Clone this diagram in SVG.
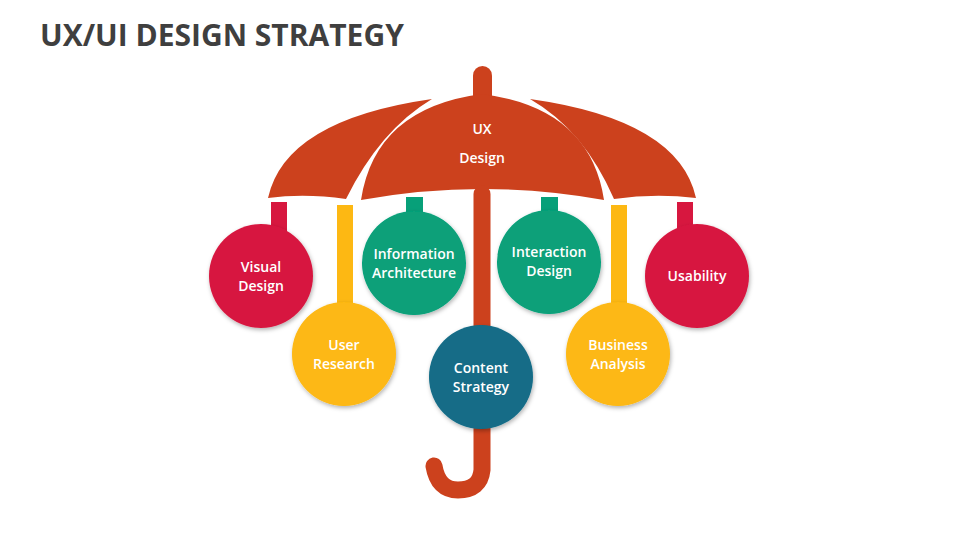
<svg xmlns="http://www.w3.org/2000/svg" width="960" height="540" viewBox="0 0 960 540">
<style>
.r{fill:#cc411d}.c{fill:#d7173f}.y{fill:#fdb813}.g{fill:#07a079}.t{fill:#136c87}
.lb{font-family:"Open Sans","Liberation Sans",sans-serif;font-weight:600;font-size:14px;fill:#fff;text-anchor:middle}
</style>
<defs><filter id="sh" x="-20%" y="-20%" width="140%" height="140%"><feDropShadow dx="1" dy="2" stdDeviation="2" flood-opacity="0.3"/></filter></defs>
<rect width="960" height="540" fill="#fff"/>
<text x="40" y="46" font-family="Open Sans,Liberation Sans,sans-serif" font-weight="700" font-size="30" fill="#3f3f3f">UX/UI DESIGN STRATEGY</text>
<g id="umbrella">
<rect class="r" x="473" y="66" width="19" height="40" rx="9.5"/>
<path class="r" d="M268,198 Q285,120 432,99 Q380,130 346,199 Q305,193 268,198Z"/>
<path class="r" d="M696,198 Q679,120 530,99 Q584,130 614,199 Q655,193 696,198Z"/>
<path class="r" d="M361,200 Q375,108 482,94 Q590,108 604,200 Q482,178 361,200Z"/>
<text x="482" y="134" class="lb" font-size="19" font-weight="700">UX</text>
<text x="482" y="163" class="lb" font-size="19" font-weight="700">Design</text>
<path d="M482,194 V470 Q480,490 458,490 Q438,490 434,466" fill="none" stroke="#cc411d" stroke-width="17" stroke-linecap="round"/>
</g>
<g id="connectors">
<rect class="c" x="271" y="202" width="16" height="30"/>
<rect class="y" x="337" y="205" width="16" height="100"/>
<rect class="g" x="406" y="197" width="17" height="18"/>
<rect class="g" x="541" y="197" width="17" height="18"/>
<rect class="y" x="611" y="205" width="16" height="100"/>
<rect class="c" x="677" y="202" width="16" height="30"/>
</g>
<g id="visual-design"><circle class="c" cx="261" cy="276" r="52" filter="url(#sh)"/><text class="lb" x="261" y="272">Visual</text><text class="lb" x="261" y="291">Design</text></g>
<g id="user-research"><circle class="y" cx="344" cy="354" r="52" filter="url(#sh)"/><text class="lb" x="344" y="350">User</text><text class="lb" x="344" y="369">Research</text></g>
<g id="information-architecture"><circle class="g" cx="414" cy="263" r="52" filter="url(#sh)"/><text class="lb" x="414" y="259">Information</text><text class="lb" x="414" y="278">Architecture</text></g>
<g id="content-strategy"><circle class="t" cx="481" cy="377" r="52" filter="url(#sh)"/><text class="lb" x="481" y="373">Content</text><text class="lb" x="481" y="392">Strategy</text></g>
<g id="interaction-design"><circle class="g" cx="549" cy="262" r="52" filter="url(#sh)"/><text class="lb" x="549" y="257">Interaction</text><text class="lb" x="549" y="276">Design</text></g>
<g id="business-analysis"><circle class="y" cx="618" cy="354" r="52" filter="url(#sh)"/><text class="lb" x="618" y="350">Business</text><text class="lb" x="618" y="369">Analysis</text></g>
<g id="usability"><circle class="c" cx="697" cy="276" r="52" filter="url(#sh)"/><text class="lb" x="697" y="281">Usability</text></g>
</svg>
